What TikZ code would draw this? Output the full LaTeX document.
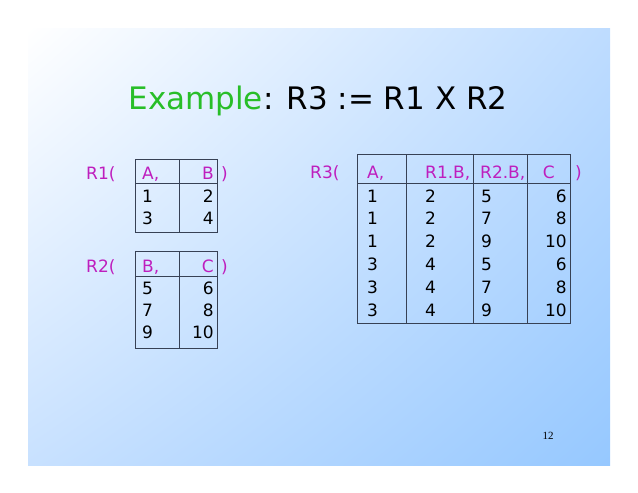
\documentclass[tikz,border=0pt]{standalone}
\usepackage{fontspec}
\usetikzlibrary{shadings}
\setmainfont{DejaVu Sans}
\newfontfamily\serifnum{Liberation Serif}
\definecolor{mag}{RGB}{190,30,190}
\definecolor{grn}{RGB}{40,190,40}
\definecolor{ln}{RGB}{55,65,85}
\definecolor{bgur}{RGB}{190,220,255}
\definecolor{bgll}{RGB}{200,225,255}
\definecolor{bglr}{RGB}{150,200,255}
\begin{document}
\begin{tikzpicture}[x=1pt,y=-1pt,
  t/.style={font=\fontsize{17}{17}\selectfont,inner sep=0pt,anchor=base west},
  tr/.style={t,anchor=base east},
  h/.style={t,text=mag},
  hr/.style={tr,text=mag},
  tab/.style={draw=ln,line width=0.8pt}]
\useasboundingbox (0,0) rectangle (638,493);
\shade[upper left=white,upper right=bgur,lower left=bgll,lower right=bglr] (28,28) rectangle (610,465);
\node (title) at (318,101) {\fontsize{31}{31}\selectfont\textcolor{grn}{Example}: R3 := R1 X R2};
% R1
\draw[tab] (135,159) rectangle (217,232) (179,159) -- (179,232) (135,183) -- (217,183);
\node[h] (r1) at (86,179) {R1(};
\node[h] (r1a) at (142,179) {A,};
\node[hr] (r1b) at (214,179) {B};
\node[h] (r1c) at (221,179) {)};
\foreach \a/\b/\y in {1/2/202,3/4/224}{\node[t] at (142,\y) {\a}; \node[tr] at (214,\y) {\b};}
% R2
\draw[tab] (135,251) rectangle (217,348) (179,251) -- (179,348) (135,276) -- (217,276);
\node[h] (r2) at (86,272) {R2(};
\node[h] (r2a) at (142,272) {B,};
\node[hr] (r2b) at (214,272) {C};
\node[h] (r2c) at (221,272) {)};
\foreach \a/\b/\y in {5/6/294,7/8/316,9/10/338}{\node[t] at (142,\y) {\a}; \node[tr] at (214,\y) {\b};}
% R3
\draw[tab] (357,154) rectangle (570,323) (406,154) -- (406,323) (473,154) -- (473,323) (527,154) -- (527,323) (357,183) -- (570,183);
\node[h] (r3) at (310,178) {R3(};
\node[h] (r3a) at (367,178) {A,};
\node[h] (r3b) at (425,178) {R1.B,};
\node[h] (r3c) at (480,178) {R2.B,};
\node[hr] (r3d) at (555,178) {C};
\node[h] (r3e) at (575,178) {)};
\foreach \a/\b/\c/\d/\y in {1/2/5/6/202,1/2/7/8/224,1/2/9/10/247,3/4/5/6/270,3/4/7/8/293,3/4/9/10/316}{
  \node[t] at (367,\y) {\a}; \node[t] at (425,\y) {\b}; \node[t] at (481,\y) {\c}; \node[tr] at (567,\y) {\d};}
\node (pg) at (548,436) {\serifnum\fontsize{11}{11}\selectfont 12};
\end{tikzpicture}
\end{document}
